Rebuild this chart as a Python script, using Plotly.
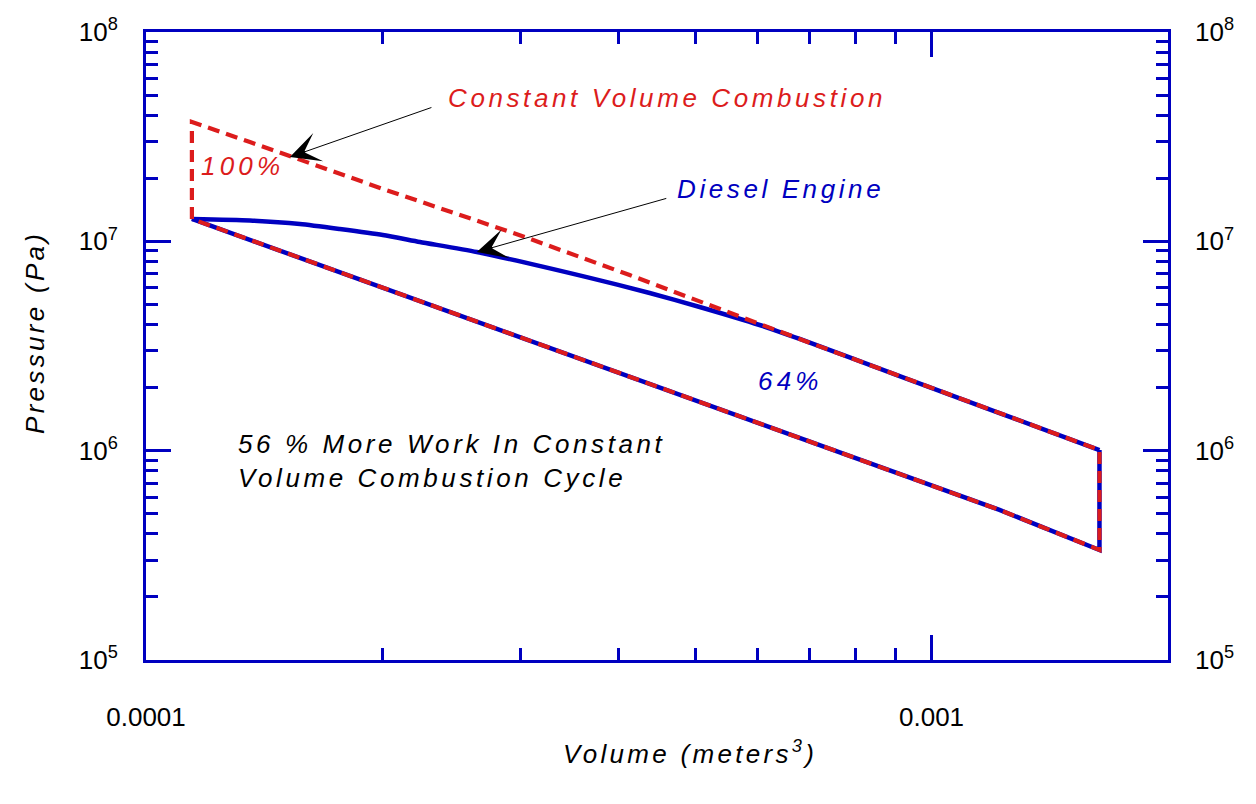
import plotly.graph_objects as go

# ---------------- data ----------------
# Diesel engine cycle (blue, solid): expansion curve, then exhaust + compression
V_diesel = [1.144e-4, 1.356e-4, 1.570e-4, 1.765e-4, 2.002e-4, 2.232e-4, 2.637e-4, 3.640e-4,
            4.377e-4, 5.068e-4, 6.041e-4, 6.794e-4, 9.107e-4, 1.2205e-3, 1.636e-3,
            1.636e-3, 1.2205e-3, 1.144e-4]
P_diesel = [1.279e7, 1.258e7, 1.210e7, 1.145e7, 1.072e7, 9.93e6, 8.89e6, 6.75e6,
            5.665e6, 4.857e6, 3.984e6, 3.416e6, 2.273e6, 1.513e6, 1.007e6,
            3.354e5, 5.21e5, 1.279e7]
N_EXP = 15  # number of points on the blue expansion curve

# Constant volume combustion cycle (red, dashed)
V_cv = [1.144e-4, 1.144e-4, 1.356e-4, 1.651e-4, 2.002e-4, 2.991e-4, 4.128e-4,
        6.794e-4, 9.107e-4, 1.2205e-3, 1.636e-3, 1.636e-3, 1.2205e-3, 1.144e-4]
P_cv = [1.279e7, 3.716e7, 2.982e7, 2.29e7, 1.78e7, 1.07e7, 6.9e6,
        3.416e6, 2.273e6, 1.513e6, 1.007e6, 3.354e5, 5.21e5, 1.279e7]

x_tickvals = [1e-4, 1e-3]
x_ticktext = ["0.0001", "0.001"]
x_minor = [2e-4, 3e-4, 4e-4, 5e-4, 6e-4, 7e-4, 8e-4, 9e-4]
y_tickvals = [1e5, 1e6, 1e7, 1e8]
y_ticktext = ["10<sup>5</sup>", "10<sup>6</sup>", "10<sup>7</sup>", "10<sup>8</sup>"]
y_minor = [m * 10 ** e for e in (5, 6, 7) for m in range(2, 10)]

BLUE = "#0000C0"
RED = "#DC1C1C"
FONT = "Liberation Sans"
FS = 26


def ls(s, px=3.6):
    return f"<span style='letter-spacing:{px}px;font-size:{FS}px'>{s}</span>"


fig = go.Figure()
# blue expansion curve (smooth)
fig.add_trace(go.Scatter(x=V_diesel[:N_EXP], y=P_diesel[:N_EXP], mode="lines",
                         line=dict(color=BLUE, width=4.5, shape="spline", smoothing=0.6),
                         hoverinfo="skip"))
# blue exhaust + compression
fig.add_trace(go.Scatter(x=V_diesel[N_EXP - 1:], y=P_diesel[N_EXP - 1:], mode="lines",
                         line=dict(color=BLUE, width=4.5), hoverinfo="skip"))
fig.add_trace(go.Scatter(x=V_cv, y=P_cv, mode="lines",
                         line=dict(color=RED, width=4.2, dash="12px,7px"), hoverinfo="skip"))
# invisible trace so the right-hand label axis is drawn
fig.add_trace(go.Scatter(x=V_diesel, y=P_diesel, mode="lines", yaxis="y2",
                         opacity=0, hoverinfo="skip"))

axis_common = dict(type="log", showgrid=False, zeroline=False)

fig.update_layout(
    width=1256, height=804, autosize=False,
    margin=dict(l=146, r=88, t=32, b=144),
    plot_bgcolor="white", paper_bgcolor="white",
    showlegend=False,
    font=dict(family=FONT, size=FS, color="black"),
    xaxis=dict(**axis_common, range=[-4, -2.69897],
               showline=True, linecolor=BLUE, linewidth=3, mirror="ticks",
               ticks="inside", ticklen=25, tickwidth=3, tickcolor=BLUE,
               tickmode="array", tickvals=x_tickvals, ticktext=x_ticktext,
               tickfont=dict(family=FONT, size=FS, color="black"),
               ticklabelstandoff=32,
               minor=dict(tickmode="array", tickvals=x_minor, ticks="inside",
                          ticklen=12, tickwidth=2.5, tickcolor=BLUE)),
    yaxis=dict(**axis_common, range=[5, 8],
               showline=True, linecolor=BLUE, linewidth=3, mirror="ticks",
               ticks="inside", ticklen=25, tickwidth=3, tickcolor=BLUE,
               tickmode="array", tickvals=y_tickvals, ticktext=y_ticktext,
               tickfont=dict(family=FONT, size=FS, color="black"),
               ticklabelstandoff=20,
               minor=dict(tickmode="array", tickvals=y_minor, ticks="inside",
                          ticklen=12, tickwidth=2.5, tickcolor=BLUE)),
    yaxis2=dict(**axis_common, range=[5, 8], overlaying="y", side="right", anchor="x",
                showline=False, ticks="",
                tickmode="array", tickvals=y_tickvals, ticktext=y_ticktext,
                tickfont=dict(family=FONT, size=FS, color="black"),
                ticklabelstandoff=26),
)


def px_x(p):
    return (p - 146) / 1022


def px_y(p):
    return (660 - p) / 628


def ital(c):
    return dict(family=FONT, size=FS, color=c, style="italic")


ann = []
# axis titles
ann.append(dict(text=ls("Pressure (Pa)", 3.3), xref="paper", yref="paper",
                x=px_x(35), y=px_y(333), textangle=-90, showarrow=False,
                xanchor="center", yanchor="middle", font=ital("black")))
ann.append(dict(text=ls("Volume (meters<sup>3</sup>)", 3.3), xref="paper", yref="paper",
                x=px_x(690), y=px_y(752), showarrow=False,
                xanchor="center", yanchor="middle", font=ital("black")))
# labels
ann.append(dict(text=ls("Constant Volume Combustion"), xref="paper", yref="paper",
                x=px_x(667), y=px_y(98), showarrow=False, xanchor="center", yanchor="middle",
                font=ital(RED)))
ann.append(dict(text=ls("Diesel Engine"), xref="paper", yref="paper",
                x=px_x(780), y=px_y(189), showarrow=False, xanchor="center", yanchor="middle",
                font=ital(BLUE)))
ann.append(dict(text=ls("100%", 4.2), xref="paper", yref="paper",
                x=px_x(242), y=px_y(166), showarrow=False, xanchor="center", yanchor="middle",
                font=ital(RED)))
ann.append(dict(text=ls("64%", 4.2), xref="paper", yref="paper",
                x=px_x(790), y=px_y(381), showarrow=False, xanchor="center", yanchor="middle",
                font=ital(BLUE)))
ann.append(dict(text=ls("56 % More Work In Constant") + "<br>" + ls("Volume Combustion Cycle"),
                xref="paper", yref="paper", align="left",
                x=px_x(236), y=px_y(461), showarrow=False, xanchor="left", yanchor="middle",
                font=ital("black")))
# arrows
ann.append(dict(text="", xref="x", yref="y", x=-3.8168, y=7.4029, ax=143, ay=-50,
                showarrow=True, arrowhead=3, arrowsize=5, arrowwidth=1, arrowcolor="black"))
ann.append(dict(text="", xref="x", yref="y", x=-3.5789, y=6.9491, ax=191, ay=-54,
                showarrow=True, arrowhead=3, arrowsize=5, arrowwidth=1, arrowcolor="black"))

fig.update_layout(annotations=ann)

fig.write_html("out.html")
